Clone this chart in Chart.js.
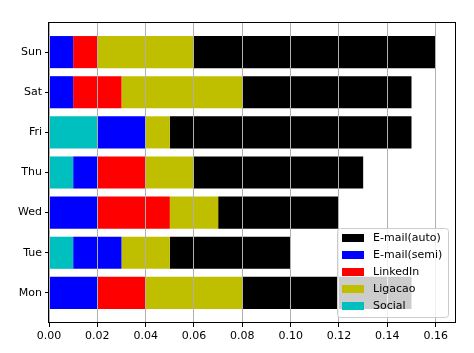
<!DOCTYPE html>
<html>
<head>
<meta charset="utf-8">
<script src="https://cdn.jsdelivr.net/npm/chart.js@4"></script>
<style>
  html, body { margin: 0; padding: 0; background: #fff; }
  #wrap { width: 474px; height: 353px; }
</style>
</head>
<body>
<div id="wrap"><canvas id="myChart" width="474" height="353"></canvas></div>
<script>
// days, top to bottom
var days = ['Sun', 'Sat', 'Fri', 'Thu', 'Wed', 'Tue', 'Mon'];
var xTicks = [0, 0.02, 0.04, 0.06, 0.08, 0.10, 0.12, 0.14, 0.16];
var legendOrder = ['E-mail(auto)', 'E-mail(semi)', 'LinkedIn', 'Ligacao', 'Social'];

var social     = [0,    0,    0.02, 0.01, 0,    0.01, 0];
var emailSemi  = [0.01, 0.01, 0.02, 0.01, 0.02, 0.02, 0.02];
var linkedin   = [0.01, 0.02, 0,    0.02, 0.03, 0,    0.02];
var ligacao    = [0.04, 0.05, 0.01, 0.02, 0.02, 0.02, 0.04];
var emailAuto  = [0.10, 0.07, 0.10, 0.07, 0.05, 0.05, 0.07];

var FONT = { family: 'DejaVu Sans', size: 11 };

// Sun sits at the top, so it gets the highest y position
function toPoints(arr) {
    return arr.map(function(v, i) {
        return { x: v, y: days.length - 1 - i };
    });
}

function makeSet(label, arr, color) {
    return {
        label: label,
        data: toPoints(arr),
        backgroundColor: color,
        borderWidth: 0,
        barPercentage: 0.8,
        categoryPercentage: 1.0
    };
}

// frame round the plot + legend box drawn over it (like matplotlib)
var framePlugin = {
    id: 'frame',
    afterDraw: function(chart) {
        var ctx = chart.ctx;
        var a = chart.chartArea;
        ctx.save();
        ctx.strokeStyle = '#000';
        ctx.lineWidth = 1;
        ctx.strokeRect(Math.round(a.left) - 0.5, Math.round(a.top) + 0.5,
            Math.round(a.right - a.left) + 1, Math.round(a.bottom - a.top) - 1);

        // legend
        var bx = a.right - 118, by = a.bottom - 95, bw = 111, bh = 89;
        ctx.beginPath();
        ctx.roundRect(bx + 0.5, by + 0.5, bw, bh, 3);
        ctx.fillStyle = 'rgba(255,255,255,0.8)';
        ctx.fill();
        ctx.strokeStyle = '#cccccc';
        ctx.stroke();

        ctx.font = FONT.size + 'px ' + FONT.family;
        ctx.textBaseline = 'middle';
        ctx.textAlign = 'left';
        legendOrder.forEach(function(name, i) {
            var ds = chart.data.datasets.find(function(d) { return d.label === name; });
            var cy = by + 10 + i * 17;
            ctx.fillStyle = ds.backgroundColor;
            ctx.fillRect(bx + 5, cy - 4, 22, 8);
            ctx.fillStyle = '#000';
            ctx.fillText(ds.label, bx + 36, cy);
        });
        ctx.restore();
    }
};

var ctx = document.getElementById('myChart');
var myChart = new Chart(ctx, {
    type: 'bar',
    data: {
        datasets: [
            makeSet('Social', social, '#00bfbf'),
            makeSet('E-mail(semi)', emailSemi, '#0000ff'),
            makeSet('LinkedIn', linkedin, '#ff0000'),
            makeSet('Ligacao', ligacao, '#bfbf00'),
            makeSet('E-mail(auto)', emailAuto, '#000000')
        ]
    },
    options: {
        indexAxis: 'y',
        responsive: false,
        animation: false,
        layout: { padding: { top: 22, right: 19, left: 0, bottom: 0 } },
        plugins: {
            legend: { display: false },
            tooltip: { enabled: false }
        },
        scales: {
            x: {
                type: 'linear',
                stacked: true,
                min: 0,
                max: 0.168,
                afterBuildTicks: function(scale) {
                    scale.ticks = xTicks.map(function(v) { return { value: v }; });
                },
                afterFit: function(scale) { scale.height = 30; },
                ticks: {
                    color: '#000',
                    font: FONT,
                    padding: 3,
                    maxRotation: 0,
                    autoSkip: false,
                    callback: function(v) { return v.toFixed(2); }
                },
                grid: {
                    color: '#b0b0b0',
                    lineWidth: 1,
                    tickColor: '#000',
                    tickLength: 4,
                    z: 1
                },
                border: { display: false }
            },
            y: {
                type: 'linear',
                stacked: true,
                offset: false,
                min: -0.75,
                max: 6.75,
                afterBuildTicks: function(scale) {
                    scale.ticks = days.map(function(d, i) { return { value: days.length - 1 - i }; });
                },
                afterFit: function(scale) { scale.width = 49; },
                ticks: {
                    color: '#000',
                    font: FONT,
                    padding: 3,
                    autoSkip: false,
                    callback: function(v) { return days[days.length - 1 - v]; }
                },
                grid: {
                    offset: false,
                    drawOnChartArea: false,
                    tickColor: '#000',
                    tickLength: 4
                },
                border: { display: false }
            }
        }
    },
    plugins: [framePlugin]
});
</script>
</body>
</html>
